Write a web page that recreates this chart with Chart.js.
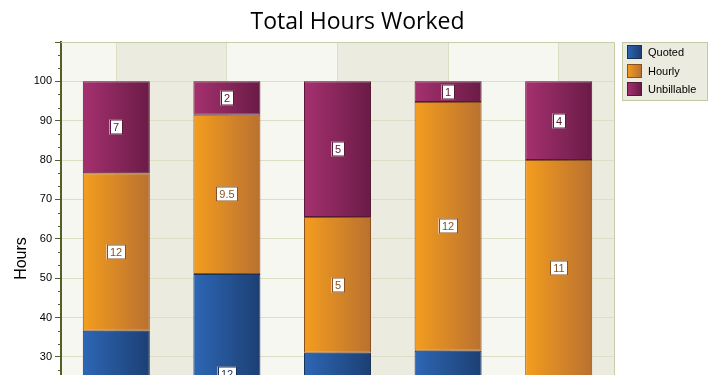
<!DOCTYPE html>
<html>
<head>
<meta charset="utf-8">
<script src="https://cdn.jsdelivr.net/npm/chart.js@4/dist/chart.umd.min.js"></script>
<style>
    html, body { margin: 0; padding: 0; background: #ffffff; overflow: hidden; }
</style>
</head>
<body>
<canvas id="graficoHoras" width="715" height="500"></canvas>
<script>
const categorias = ["Adams", "Baker", "Clark", "Davis", "Evans"];
const quoted = [11, 12, 4.5, 6, 5];
const hourly = [12, 9.5, 5, 12, 11];
const unbillable = [7, 2, 5, 1, 4];

const cores = {
    Quoted: { claro: "#2d67b5", escuro: "#1c3f73", borda: "#1a3358" },
    Hourly: { claro: "#f49d1e", escuro: "#b97130", borda: "#8a5020" },
    Unbillable: { claro: "#a5316f", escuro: "#6a1b46", borda: "#581838" }
};

const totais = categorias.map((c, i) => quoted[i] + hourly[i] + unbillable[i]);
const percentual = (serie) => serie.map((v, i) => v / totais[i] * 100);

const larguraBarra = 0.606;

function gradiente(context, nome) {
    const chart = context.chart;
    const x = chart.scales.x;
    const cor = cores[nome];
    if (!x || !chart.chartArea) return cor.claro;
    const cx = x.getPixelForValue(context.dataIndex);
    const meia = x.width / categorias.length * larguraBarra / 2;
    const g = chart.ctx.createLinearGradient(cx - meia, 0, cx + meia, 0);
    g.addColorStop(0, cor.claro);
    g.addColorStop(1, cor.escuro);
    return g;
}

function serie(nome, valores) {
    return {
        label: nome,
        brutos: valores,
        data: percentual(valores),
        backgroundColor: (ctx) => gradiente(ctx, nome),
        borderColor: cores[nome].borda,
        borderWidth: 1,
        borderSkipped: false
    };
}

const fundo = {
    id: "fundo",
    beforeDraw(chart) {
        const { ctx, chartArea: a, scales: { x } } = chart;
        ctx.save();
        ctx.fillStyle = "#f7f7f1";
        ctx.fillRect(a.left, a.top, a.width, a.height);
        const pts = [a.left, ...categorias.map((c, i) => x.getPixelForValue(i)), a.right];
        ctx.fillStyle = "#ecebe0";
        for (let i = 1; i < pts.length - 1; i += 2) {
            ctx.fillRect(pts[i], a.top, pts[i + 1] - pts[i], a.height);
        }
        ctx.restore();
    }
};

const rotulos = {
    id: "rotulos",
    afterDatasetsDraw(chart) {
        const { ctx, chartArea: a, scales: { y } } = chart;
        ctx.save();

        // borda direita e topo
        ctx.strokeStyle = "#c9cca9";
        ctx.lineWidth = 1;
        ctx.beginPath();
        ctx.moveTo(a.left, a.top + 0.5);
        ctx.lineTo(a.right + 0.5, a.top + 0.5);
        ctx.lineTo(a.right + 0.5, a.bottom);
        ctx.stroke();

        // ticks menores do eixo y
        ctx.strokeStyle = "#4f5f25";
        ctx.beginPath();
        for (let k = 0; k < 11; k++) {
            [1, 2].forEach((m) => {
                const py = Math.round(y.getPixelForValue(k * 10 + m * 10 / 3)) + 0.5;
                ctx.moveTo(a.left - 3, py);
                ctx.lineTo(a.left, py);
            });
        }
        ctx.stroke();

        // rotulos de valores
        ctx.font = "11px 'Liberation Sans'";
        ctx.textAlign = "center";
        ctx.textBaseline = "middle";
        chart.data.datasets.forEach((ds, di) => {
            const meta = chart.getDatasetMeta(di);
            const cor = cores[ds.label].borda;
            meta.data.forEach((bar, i) => {
                const texto = String(ds.brutos[i]);
                const cy = Math.round((bar.y + bar.base) / 2);
                const cx = Math.round(bar.x);
                const w = Math.round(ctx.measureText(texto).width) + 7;
                const h = 15;
                ctx.fillStyle = "#ffffff";
                ctx.fillRect(cx - w / 2, cy - h / 2, w, h);
                ctx.strokeStyle = cor;
                ctx.strokeRect(Math.round(cx - w / 2) + 0.5, cy - h / 2 + 0.5, w - 1, h - 1);
                ctx.fillStyle = cor;
                ctx.fillText(texto, cx, cy + 1);
            });
        });
        ctx.restore();
    }
};

const legenda = {
    id: "legenda",
    afterDraw(chart) {
        const ctx = chart.ctx;
        ctx.save();
        ctx.fillStyle = "#ecebe0";
        ctx.fillRect(622, 42, 86, 59);
        ctx.strokeStyle = "#c5c8a6";
        ctx.lineWidth = 1;
        ctx.strokeRect(622.5, 42.5, 85, 58);
        ctx.font = "11px 'Liberation Sans'";
        ctx.textAlign = "left";
        ctx.textBaseline = "middle";
        chart.data.datasets.forEach((ds, k) => {
            const cor = cores[ds.label];
            const top = 45 + Math.round(k * 18.5);
            const g = ctx.createLinearGradient(627, 0, 641, 0);
            g.addColorStop(0, cor.claro);
            g.addColorStop(1, cor.escuro);
            ctx.fillStyle = g;
            ctx.fillRect(627, top, 15, 14);
            ctx.strokeStyle = cor.borda;
            ctx.strokeRect(627.5, top + 0.5, 14, 13);
            ctx.fillStyle = "#000000";
            ctx.fillText(ds.label, 648, top + 7.5);
        });
        ctx.restore();
    }
};

const ctx = document.getElementById("graficoHoras").getContext("2d");

new Chart(ctx, {
    type: "bar",
    data: {
        labels: categorias,
        datasets: [
            serie("Quoted", quoted),
            serie("Hourly", hourly),
            serie("Unbillable", unbillable)
        ]
    },
    options: {
        responsive: false,
        animation: false,
        layout: { padding: { left: 0, right: 0, top: 0, bottom: 25 } },
        datasets: {
            bar: { categoryPercentage: 1, barPercentage: larguraBarra }
        },
        scales: {
            x: {
                stacked: true,
                ticks: { display: false },
                grid: { offset: false, color: "#dcdfc6", drawTicks: false },
                border: { display: false }
            },
            y: {
                stacked: true,
                min: 0,
                max: 110,
                ticks: {
                    stepSize: 10,
                    padding: 3,
                    color: "#000000",
                    font: { family: "Liberation Sans", size: 11 },
                    callback: (v) => (v > 100 ? "" : v)
                },
                grid: { color: "#dcdfc6", tickColor: "#4f5f25", tickLength: 6 },
                border: { color: "#4f5f25", width: 2 },
                title: {
                    display: true,
                    text: "Hours",
                    color: "#000000",
                    font: { family: "Liberation Sans", size: 16 },
                    padding: { top: 12, bottom: 0 }
                },
                afterFit(scale) { scale.width = 61; }
            },
            // espaco reservado para a legenda a direita
            espacoLegenda: {
                type: "linear",
                position: "right",
                display: true,
                ticks: { display: false },
                grid: { display: false, drawTicks: false },
                border: { display: false },
                afterFit(scale) { scale.width = 101; }
            }
        },
        plugins: {
            legend: { display: false },
            tooltip: { enabled: false },
            title: {
                display: true,
                text: "Total Hours Worked",
                color: "#000000",
                font: { family: "Open Sans", size: 23, weight: "normal" },
                padding: { top: 9, bottom: 5.4 }
            }
        }
    },
    plugins: [fundo, rotulos, legenda]
});
</script>
</body>
</html>
